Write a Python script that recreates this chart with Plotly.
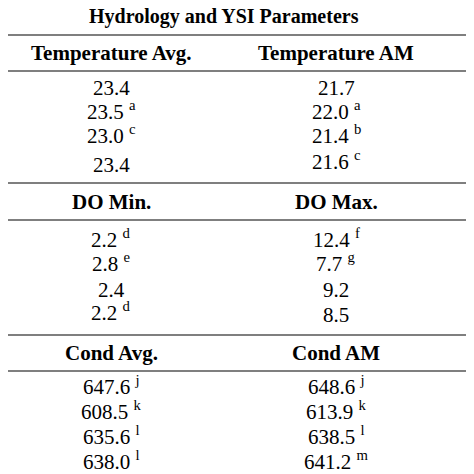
import plotly.graph_objects as go

title = "Hydrology and YSI Parameters"
headers = [("Temperature Avg.", "Temperature AM"), ("DO Min.", "DO Max."), ("Cond Avg.", "Cond AM")]
temp_avg = ["23.4", "23.5", "23.0", "23.4"]
temp_avg_sup = ["", "a", "c", ""]
temp_am = ["21.7", "22.0", "21.4", "21.6"]
temp_am_sup = ["", "a", "b", "c"]
do_min = ["2.2", "2.8", "2.4", "2.2"]
do_min_sup = ["d", "e", "", "d"]
do_max = ["12.4", "7.7", "9.2", "8.5"]
do_max_sup = ["f", "g", "", ""]
cond_avg = ["647.6", "608.5", "635.6", "638.0"]
cond_avg_sup = ["j", "k", "l", "l"]
cond_am = ["648.6", "613.9", "638.5", "641.2"]
cond_am_sup = ["j", "k", "l", "m"]

sections = [
    (temp_avg, temp_avg_sup, temp_am, temp_am_sup),
    (do_min, do_min_sup, do_max, do_max_sup),
    (cond_avg, cond_avg_sup, cond_am, cond_am_sup),
]

W = H = 474
FONT = "Liberation Serif"
header_y = [45, 194, 345]
row_y = [[80, 106, 131, 157], [234, 258, 282, 307], [381, 406, 431, 456]]
lines_y = [27, 63, 175, 212, 327, 363]
col_x = [103, 328]

def py(y):
    return 1 - y / H

def cell(v, s):
    return v + (" <sup>" + s + "</sup>" if s else "")

def add_cell(ann, x, y, v, s):
    # superscript makes the text box taller, so nudge it up
    ann.append(dict(x=x / W, y=py(y - (4 if s else 0)), text=cell(v, s), font=dict(size=21)))

ann = [dict(x=216 / W, y=py(9), text="<b>" + title + "</b>", font=dict(size=20))]
for k, (a, asup, b, bsup) in enumerate(sections):
    for c, h in enumerate(headers[k]):
        ann.append(dict(x=col_x[c] / W, y=py(header_y[k]), text="<b>" + h + "</b>", font=dict(size=21)))
    for r in range(4):
        add_cell(ann, col_x[0], row_y[k][r], a[r], asup[r])
        add_cell(ann, col_x[1], row_y[k][r], b[r], bsup[r])
for a in ann:
    a.update(xref="paper", yref="paper", showarrow=False, xanchor="center", yanchor="middle")
    a["font"].update(family=FONT, color="black")

shapes = [dict(type="line", xref="paper", yref="paper", x0=0, x1=1, y0=py(y), y1=py(y),
               line=dict(color="#555555", width=1.5)) for y in lines_y]

fig = go.Figure()
fig.update_layout(width=W, height=H, margin=dict(l=0, r=0, t=0, b=0),
                  paper_bgcolor="white", plot_bgcolor="white",
                  xaxis=dict(visible=False), yaxis=dict(visible=False),
                  annotations=ann, shapes=shapes)
fig.write_html("out.html")
